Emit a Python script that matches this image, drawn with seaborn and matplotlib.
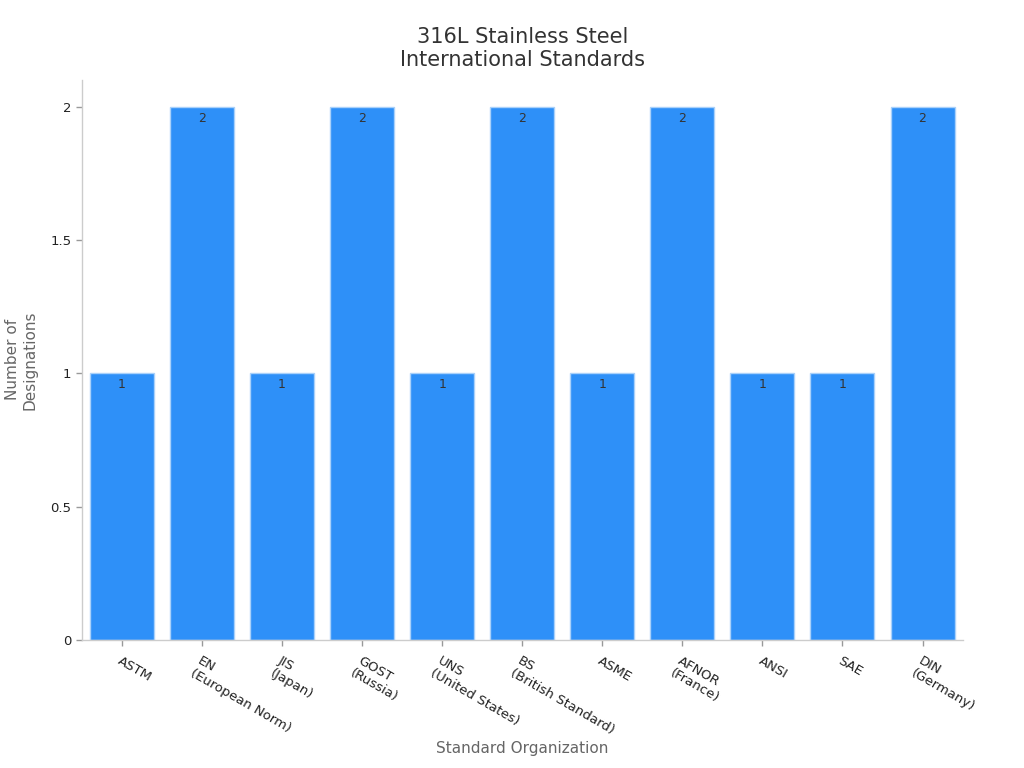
import pandas as pd
import seaborn as sns
import matplotlib.pyplot as plt
from matplotlib.ticker import FuncFormatter

sns.set_theme(style="white")
plt.rcParams["font.family"] = ["DejaVu Sans"]

# dados do grafico
organizacoes = ["ASTM", "EN\n(European Norm)", "JIS\n(Japan)", "GOST\n(Russia)",
                "UNS\n(United States)", "BS\n(British Standard)", "ASME",
                "AFNOR\n(France)", "ANSI", "SAE", "DIN\n(Germany)"]
designacoes = [1, 2, 1, 2, 1, 2, 1, 2, 1, 1, 2]

df = pd.DataFrame({"org": organizacoes, "n": designacoes})

fig = plt.figure(figsize=(10.24, 7.68), dpi=100)
ax = fig.add_axes([0.080, 0.1667, 0.860, 0.7293])

sns.barplot(x="org", y="n", data=df, color="#2E90F8", saturation=1,
            width=0.8, edgecolor="#A9D1FA", linewidth=1, ax=ax)

# valores dentro da barra
for c in ax.containers:
    ax.bar_label(c, labels=[str(v) for v in designacoes], padding=-13,
                 fontsize=9, color="#333333")

ax.set_xlim(-0.5, len(organizacoes) - 0.5)
ax.set_ylim(0, 2.1)
ax.set_yticks([0, 0.5, 1, 1.5, 2])
ax.yaxis.set_major_formatter(FuncFormatter(lambda v, p: f"{v:g}"))

ax.set_title("316L Stainless Steel\nInternational Standards", fontsize=15,
             color="#333333", pad=10)
ax.set_xlabel("Standard Organization", fontsize=11, color="#666666", labelpad=3)
ax.set_ylabel("Number of\nDesignations", fontsize=11, color="#666666", labelpad=9)

plt.setp(ax.get_xticklabels(), rotation=-30, ha="left", rotation_mode="anchor",
         fontsize=9.5, color="#222222", multialignment="left")
ax.tick_params(axis="y", labelsize=9.5, colors="#222222")
ax.tick_params(axis="both", which="major", length=4, width=1, color="#999999",
               bottom=True, left=True)
ax.tick_params(axis="x", pad=6)

sns.despine(ax=ax)
for s in ["left", "bottom"]:
    ax.spines[s].set_color("#cccccc")
    ax.spines[s].set_linewidth(1)

fig.savefig("out.png", dpi=100)
plt.close()
